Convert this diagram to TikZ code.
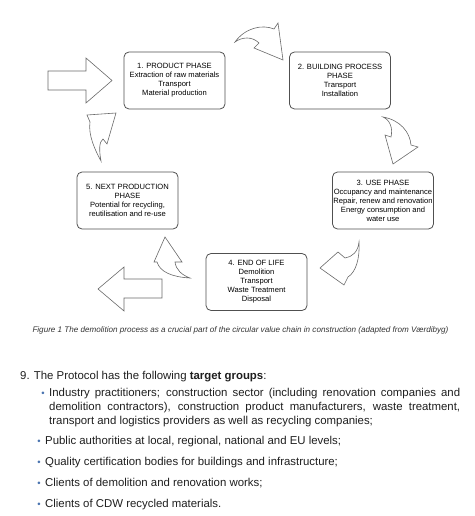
\documentclass[tikz,border=0pt]{standalone}
\usepackage{fontspec}
\setmainfont{Liberation Sans}
\usepackage{tikz}
\definecolor{boxline}{HTML}{505050}
\definecolor{arrowline}{HTML}{6A6A6A}
\definecolor{bodytext}{HTML}{1E1E1E}
\definecolor{captiongray}{HTML}{333333}
\definecolor{bulletblue}{HTML}{4A74B0}

\begin{document}
\begin{tikzpicture}[x=1pt, y=-1pt,
	phase/.style = {draw=boxline, line width=0.8pt, rounded corners=5pt, minimum width=101pt, minimum height=57pt, inner sep=0pt, align=center, font=\fontsize{7.6}{9}\selectfont},
	blockarrow/.style = {draw=arrowline, line width=0.6pt, fill=white},
	body/.style = {anchor=base west, inner sep=0pt, text=bodytext, font=\fontsize{11.4}{14}\selectfont},
	dot/.style = {anchor=base, inner sep=0pt, text=bulletblue, font=\fontsize{9.5}{9}\selectfont}]
		\useasboundingbox (0,0) rectangle (474,516);
		\node (p1) [phase] at (174.5,80.5) {1. PRODUCT PHASE\\Extraction of raw materials\\Transport\\Material production};
		\node (p2) [phase] at (340,80.5) {2. BUILDING PROCESS\\PHASE\\Transport\\Installation};
		\node (p3) [phase] at (383,200.5) {3. USE PHASE\\Occupancy and maintenance\\Repair, renew and renovation\\Energy consumption and\\water use};
		\node (p4) [phase] at (256.5,282) {4. END OF LIFE\\Demolition\\Transport\\Waste Treatment\\Disposal};
		\node (p5) [phase] at (127.5,200.5) {5. NEXT PRODUCTION\\PHASE\\Potential for recycling,\\reutilisation and re-use};
		\draw[blockarrow] (48,71) -- (86,71) -- (86,58) -- (112,80.5) -- (86,103) -- (86,90) -- (48,90) -- cycle;
		\draw[blockarrow] (162,279) -- (124,279) -- (124,267) -- (98,289) -- (124,311) -- (124,298) -- (162,298) -- cycle;
		\draw[blockarrow] (235,42) .. controls (245,28) and (262,24) .. (274,29) -- (278,23) -- (283,60) -- (254,48) -- (259,43) .. controls (252,36) and (242,37) .. (235,42) -- cycle;
		\draw[blockarrow] (383,117) .. controls (400,120) and (410,132) .. (411,145) -- (418,147) -- (393,164) -- (385,135) -- (391,137) .. controls (393,128) and (390,120) .. (383,117) -- cycle;
		\draw[blockarrow] (359,242) .. controls (358,252) and (352,257) .. (345,258) -- (338,252) -- (320,268) -- (344,285) -- (348,277) .. controls (356,272) and (360,258) .. (359,242) -- cycle;
		\draw[blockarrow] (190,278) .. controls (172,277) and (160,272) .. (157,262) -- (154,262) -- (165,237) -- (182,262) -- (175,262) .. controls (176,270) and (182,275) .. (190,278) -- cycle;
		\draw[blockarrow] (101,161) .. controls (95,150) and (88,135) .. (90,122) -- (87,115) -- (116,113) -- (107,144) -- (103,139) .. controls (99,142) and (99,150) .. (101,161) -- cycle;
		\node (cap) [anchor=base, inner sep=0pt, text=captiongray, font=\fontsize{8.1}{9}\selectfont\itshape] at (240.5,332) {Figure 1 The demolition process as a crucial part of the circular value chain in construction (adapted from Værdibyg)};
		\node (intro) [body] at (20,379) {9. The Protocol has the following \textbf{target groups}:};
		\node (b1) [dot] at (43,396) {•};
		\node (g1) [body, text width=411pt, align=justify] at (49,396) {\hangindent=5pt\hangafter=1 Industry practitioners; construction sector (including renovation companies and\linebreak demolition contractors), construction product manufacturers, waste treatment,\linebreak transport and logistics providers as well as recycling companies;};
		\node (b2) [dot] at (39,444) {•};
		\node (g2) [body] at (45,444) {Public authorities at local, regional, national and EU levels;};
		\node (b3) [dot] at (39,465) {•};
		\node (g3) [body] at (45,465) {Quality certification bodies for buildings and infrastructure;};
		\node (b4) [dot] at (39,486) {•};
		\node (g4) [body] at (45,486) {Clients of demolition and renovation works;};
		\node (b5) [dot] at (39,507) {•};
		\node (g5) [body] at (45,507) {Clients of CDW recycled materials.};
\end{tikzpicture}
\end{document}
